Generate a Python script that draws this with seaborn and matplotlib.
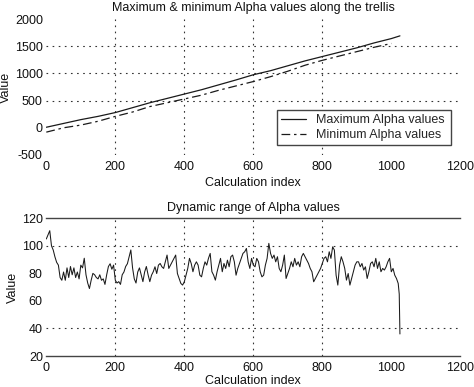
import numpy as np
import pandas as pd
import matplotlib
matplotlib.use("Agg")
import matplotlib.pyplot as plt
import seaborn as sns

# ---------------- data ----------------
max_index = [0, 50, 100, 150, 200, 250, 300, 350, 400, 450, 500, 550, 600,
             650, 700, 750, 800, 850, 900, 950, 1000, 1025]
max_alpha = [10, 80, 150, 210, 280, 370, 460, 540, 620, 700, 790, 880, 975,
             1050, 1140, 1230, 1310, 1390, 1470, 1560, 1640, 1690]

min_index = [0, 50, 100, 150, 200, 250, 300, 350, 400, 450, 500, 550, 600,
             650, 700, 750, 800, 850, 900, 950, 1000]
min_alpha = [-80, 0, 50, 120, 210, 290, 390, 460, 530, 600, 690, 770, 850,
             940, 1040, 1150, 1240, 1320, 1400, 1480, 1550]

range_seg1 = [105, 108, 111, 100, 97, 92, 88, 86, 77, 75, 81, 75, 84, 77, 85,
              79, 84, 77, 81, 76, 86, 84, 91, 79, 73, 69, 75, 80, 79, 77, 76,
              79, 75, 76, 72, 79, 85, 87, 83, 86, 75, 73, 74, 72, 79, 81, 85,
              87, 92, 97, 84, 76, 73, 81, 84, 79, 74, 81, 85, 79, 74]
range_seg2 = [78.7, 81.2, 84.8, 79.9, 86.0, 87.2, 84.8, 83.6, 88.4, 93.3, 83.6,
              86.0, 88.4, 90.9, 93.3, 79.9, 76.3, 72.7, 71.5, 73.9, 78.7, 83.6,
              90.9, 87.2, 81.2, 86.0, 88.4, 86.0, 78.7, 77.5, 83.6, 88.4, 86.0,
              90.9, 94.5, 81.2, 78.7, 75.1, 81.2, 86.0, 90.9, 81.2, 87.2, 83.6,
              89.6, 84.8, 92.1, 93.3, 88.4, 78.7, 83.6, 87.2, 90.9, 94.5, 95.7,
              98.1, 88.4, 83.6, 90.9, 86.0]
range_seg3 = [84.8, 90.9, 88.4, 81.2, 77.5, 78.7, 86.0, 90.9, 101.8, 94.5, 90.9,
              93.3, 88.4, 92.1, 83.6, 81.2, 86.0, 93.3, 76.3, 79.9, 83.6, 88.4,
              84.8, 90.9, 86.0, 88.4, 84.8, 92.1, 94.5, 92.1, 89.6, 87.2, 83.6,
              81.2, 73.9, 76.3, 78.7, 81.2, 83.6, 87.2, 90.9, 92.1, 88.4, 95.7,
              90.9, 99.3, 96.9, 78.7, 71.5, 86.0, 92.1, 88.4, 83.6, 75.1, 79.9,
              71.5, 76.3, 81.2, 86.0, 88.4]
range_seg4 = [88.4, 84.8, 87.2, 82.4, 84.8, 76.3, 81.2, 87.2, 88.4, 84.8, 90.9,
              83.6, 88.4, 81.2, 83.6, 82.4, 84.8, 88.4, 90.9, 81.2, 83.6, 78.7,
              76.3, 72.7]
range_tail_index = [1023, 1025]
range_tail = [65, 36]

range_values = range_seg1 + range_seg2 + range_seg3 + range_seg4 + range_tail
range_index = list(range(0, 5 * (len(range_values) - len(range_tail)), 5)) + range_tail_index

x_ticks = [0, 200, 400, 600, 800, 1000, 1200]
top_yticks = [-500, 0, 500, 1000, 1500, 2000]
bot_yticks = [20, 40, 60, 80, 100, 120]
top_grid_x = [200, 400, 600, 800]
top_grid_y = [500, 1000, 1500]
bot_grid_x = [200, 400, 600, 800]
bot_grid_y = [40, 100]

# ---------------- style ----------------
sns.set_theme(style="white")
plt.rcParams["font.family"] = ["Liberation Sans", "DejaVu Sans"]
FS = 9
line_col = "#1a1a1a"
grid_kw = dict(color="#333333", linewidth=0.8, linestyle=(0, (1.5, 4.0)), zorder=0)

fig = plt.figure(figsize=(4.74, 3.87), dpi=100)
ax1 = fig.add_axes([0.0977, 0.5995, 0.8734, 0.3514])
ax2 = fig.add_axes([0.0977, 0.0801, 0.8734, 0.3558])

df_max = pd.DataFrame({"idx": max_index, "val": max_alpha})
df_min = pd.DataFrame({"idx": min_index, "val": min_alpha})
df_rng = pd.DataFrame({"idx": range_index, "val": range_values})

sns.lineplot(data=df_max, x="idx", y="val", ax=ax1, color=line_col,
             linewidth=0.9, label="Maximum Alpha values")
sns.lineplot(data=df_min, x="idx", y="val", ax=ax1, color=line_col,
             linewidth=0.9, dashes=False, label="Minimum Alpha values")
ax1.lines[1].set_dashes([7, 3, 2, 3])

sns.lineplot(data=df_rng, x="idx", y="val", ax=ax2, color=line_col,
             linewidth=0.75, legend=False)

for gx in top_grid_x:
    ax1.axvline(gx, **grid_kw)
for gy in top_grid_y:
    ax1.axhline(gy, **grid_kw)
for gx in bot_grid_x:
    ax2.axvline(gx, **grid_kw)
for gy in bot_grid_y:
    ax2.axhline(gy, **grid_kw)

ax1.set_xlim(0, 1200)
ax1.set_ylim(-500, 2000)
ax2.set_xlim(0, 1200)
ax2.set_ylim(20, 120)

for ax, yt in ((ax1, top_yticks), (ax2, bot_yticks)):
    ax.set_xticks(x_ticks)
    ax.set_yticks(yt)
    ax.set_xticklabels([str(t) for t in x_ticks], fontsize=FS)
    ax.set_yticklabels([str(t) for t in yt], fontsize=FS)
    ax.tick_params(axis="both", length=0, colors="#111111")
    ax.tick_params(axis="x", pad=4.5)
    ax.tick_params(axis="y", pad=2.5)
    ax.set_ylabel("Value", fontsize=FS, labelpad=2, color="#111111")
    ax.set_facecolor("white")

ax1.set_xlabel("Calculation index", fontsize=FS, labelpad=2.5, color="#111111")
ax2.set_xlabel("Calculation index", fontsize=FS, labelpad=0.5, color="#111111")

for s in ax1.spines.values():
    s.set_visible(False)
for name, s in ax2.spines.items():
    if name in ("left", "right"):
        s.set_visible(False)
    else:
        s.set_color("#444444")
        s.set_linewidth(1.0)

ax1.set_title("Maximum & minimum Alpha values along the trellis", fontsize=FS,
              pad=5.5, color="#111111")
ax2.set_title("Dynamic range of Alpha values", fontsize=FS, pad=5.5, color="#111111")

leg = ax1.legend(loc="upper left", bbox_to_anchor=(0.557, 0.0, 0.42, 0.33),
                 mode="expand", fontsize=FS, frameon=True, fancybox=False,
                 handlelength=2.0, handletextpad=0.8, borderpad=0.35,
                 labelspacing=0.2, borderaxespad=0.0)
leg.get_frame().set_edgecolor("#444444")
leg.get_frame().set_linewidth(1.0)
leg.get_frame().set_facecolor("white")
leg.get_frame().set_alpha(1.0)

fig.savefig("out.png", dpi=100)
